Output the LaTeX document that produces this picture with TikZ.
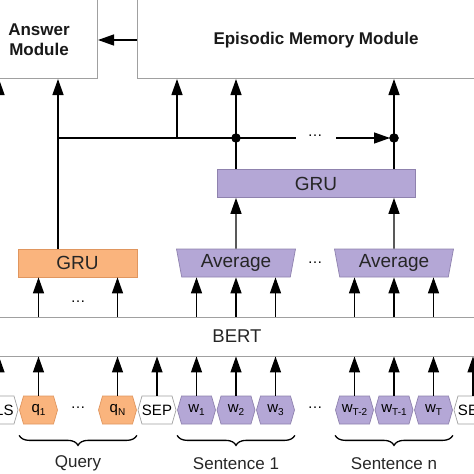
\documentclass[tikz,border=0pt]{standalone}
\usepackage{fontspec}
\setmainfont{Liberation Sans}
\usetikzlibrary{positioning,calc,arrows.meta,shapes.geometric,shapes.symbols,decorations.pathreplacing}

\definecolor{qorange}{HTML}{FAB47D}
\definecolor{qorangeline}{HTML}{E0965F}
\definecolor{spurple}{HTML}{B4A7D6}
\definecolor{spurpleline}{HTML}{8F82AE}
\definecolor{boxgray}{HTML}{A0A0A0}

\newcommand{\tsub}[1]{\raisebox{-3pt}{\fontsize{10}{10}\selectfont #1}}

\tikzset{
    modbox/.style={draw=boxgray, line width=0.9pt, rectangle, inner sep=0pt},
    modtext/.style={font=\fontsize{17}{20}\selectfont\bfseries, align=center, text=black!90},
    token/.style={signal, signal to=east and west, signal pointer angle=148,
        minimum width=38pt, minimum height=28pt, inner sep=0pt, line width=0.7pt,
        font=\fontsize{15}{18}\selectfont},
    qtok/.style={token, fill=qorange, draw=qorangeline},
    wtok/.style={token, fill=spurple, draw=spurpleline},
    stok/.style={token, fill=white, draw=boxgray},
    layer/.style={rectangle, minimum height=28pt, inner sep=0pt, line width=0.7pt,
        font=\fontsize{19}{22}\selectfont, text=black!85},
    avgbox/.style={trapezium, shape border rotate=180, trapezium stretches body,
        trapezium angle=73, minimum width=119pt, minimum height=28pt, inner sep=0pt,
        fill=spurple, draw=spurpleline, line width=0.7pt,
        font=\fontsize{19}{22}\selectfont, text=black!85},
    arr/.style={-{Triangle[length=16pt,width=11pt]}, line width=1.3pt},
    brc/.style={decorate, decoration={brace, mirror, amplitude=10pt}, line width=1.3pt},
    lbl/.style={font=\fontsize{17}{20}\selectfont, text=black!85, inner sep=0pt},
    gap/.style={font=\fontsize{15}{18}\selectfont, inner sep=0pt},
}

\begin{document}
\begin{tikzpicture}[x=1pt, y=-1pt]
    \useasboundingbox (0,0) rectangle (474,474);
    \clip (0,0) rectangle (474,474);

    \coordinate (hl)  at (0,138);
    \coordinate (lft) at (-1,150);
    \coordinate (qin) at (177,138);

    % modules
    \node[modbox, minimum width=130pt, minimum height=110pt, anchor=south east] (ans) at (98,79) {};
    \node[modbox, minimum width=380pt, minimum height=110pt, anchor=south west] (epi) at (137,79) {};
    \node[modtext] (anstxt) at (39,40) {Answer\\Module};
    \node[modtext] (epitxt) at (316,40) {Episodic Memory Module};
    \draw[arr] (epi.west |- epitxt) -- (ans.east |- epitxt);

    % tokens
    \foreach \i/\nm/\txt/\sty in {0/cls/CLS/stok, 1/q1/q\tsub{1}/qtok, 3/qn/q\tsub{N}/qtok,
        4/sepa/SEP/stok, 5/w1/w\tsub{1}/wtok, 6/w2/w\tsub{2}/wtok, 7/w3/w\tsub{3}/wtok,
        9/wa/w\tsub{T-2}/wtok, 10/wb/w\tsub{T-1}/wtok, 11/wc/w\tsub{T}/wtok, 12/sepb/SEP/stok}
        \node[\sty] (\nm) at (-1+39.5*\i, 410) {\txt};
    \node[gap] (dq) at (78,408) {\dots};
    \node[gap] (dw) at (315,408) {\dots};

    % BERT and the layers above it
    \node[modbox, minimum width=520pt, minimum height=39pt, font=\fontsize{18.5}{22}\selectfont, text=black!85] (bert) at (237,336.5) {BERT};
    \node[layer, fill=qorange, draw=qorangeline, minimum width=119pt] (gruq) at (77.5,263) {GRU};
    \node[avgbox] (avga) at (w2 |- gruq) {Average};
    \node[avgbox] (avgb) at (wb |- gruq) {Average};
    \node[layer, fill=spurple, draw=spurpleline, minimum width=198pt] (grup) at (316,183.5) {GRU};
    \node[gap] (db) at (78,302) {\dots};
    \node[gap] (da) at (315,263) {\dots};
    \coordinate (qout) at ([xshift=-19.5pt]gruq.north);

    \foreach \nm in {cls,q1,qn,sepa,w1,w2,w3,wa,wb,wc,sepb}
        \draw[arr] (\nm.north) -- (\nm.north |- bert.south);
    \foreach \nm in {q1,qn}
        \draw[arr] (bert.north -| \nm) -- (gruq.south -| \nm);
    \foreach \nm in {w1,w2,w3}
        \draw[arr] (bert.north -| \nm) -- (avga.south -| \nm);
    \foreach \nm in {wa,wb,wc}
        \draw[arr] (bert.north -| \nm) -- (avgb.south -| \nm);
    \draw[arr] (avga.north) -- (grup.south -| avga);
    \draw[arr] (avgb.north) -- (grup.south -| avgb);

    % into the modules
    \draw[arr] (lft) -- (lft |- ans.south);
    \draw[arr] (qout) -- (qout |- ans.south);
    \draw[arr] (qin) -- (qin |- epi.south);
    \draw[arr] (grup.north -| avga) -- (epi.south -| avga);
    \draw[arr] (grup.north -| avgb) -- (epi.south -| avgb);
    \draw[line width=1.3pt] (qout |- hl) -- (296,138);
    \node[gap] (dh) at (315,136) {\dots};
    \draw[arr] (336,138) -- ([xshift=-4pt]avgb |- hl);
    \filldraw (avga |- hl) circle (4.5pt);
    \filldraw (avgb |- hl) circle (4.5pt);

    % braces
    \draw[brc] ($(q1.west |- q1.south)+(0,11)$) -- ($(qn.east |- qn.south)+(0,11)$)
        node[midway, yshift=-28pt, lbl] {Query};
    \draw[brc] ($(w1.west |- w1.south)+(0,11)$) -- ($(w3.east |- w3.south)+(0,11)$)
        node[midway, yshift=-28pt, lbl] {Sentence 1};
    \draw[brc] ($(wa.west |- wa.south)+(0,11)$) -- ($(wc.east |- wc.south)+(0,11)$)
        node[midway, yshift=-28pt, lbl] {Sentence n};

\end{tikzpicture}
\end{document}
